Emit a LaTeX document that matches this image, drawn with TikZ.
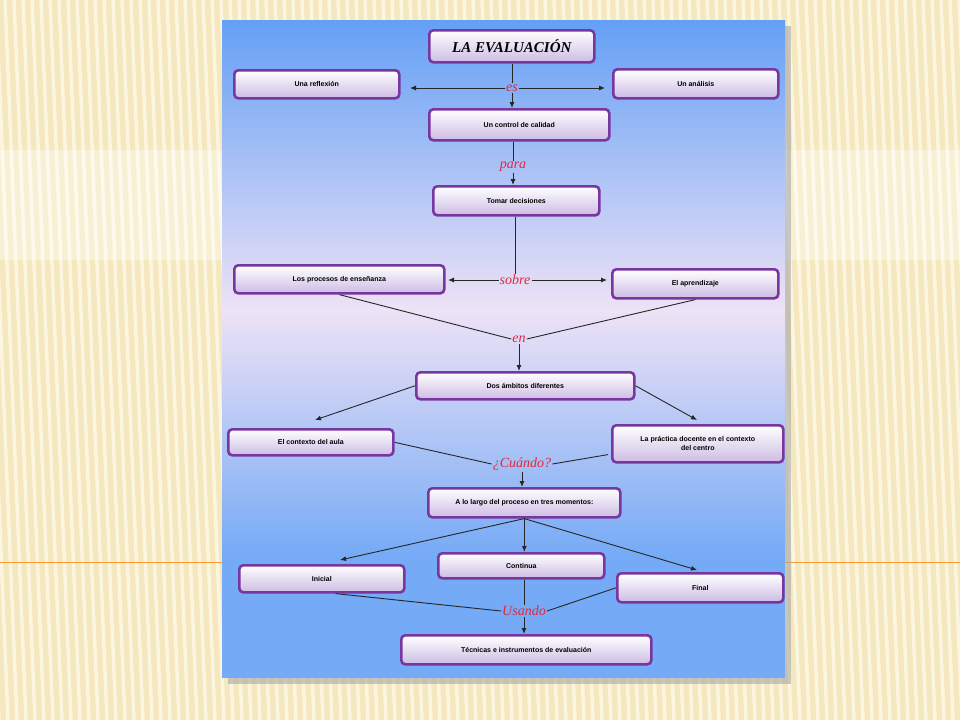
\documentclass[tikz,border=0pt]{standalone}
\usepackage{fontspec}
\setmainfont{Liberation Sans}
\newfontfamily\labfont{Liberation Serif}
\usetikzlibrary{arrows.meta}
\definecolor{bgy}{RGB}{245,232,190}
\definecolor{stripe}{RGB}{252,246,225}
\definecolor{pblue}{RGB}{100,160,245}
\definecolor{ppink}{RGB}{238,226,246}
\definecolor{boxb}{RGB}{205,188,228}
\definecolor{bord}{RGB}{120,55,160}
\definecolor{lab}{RGB}{225,40,60}
\tikzset{
 box/.style={draw=bord,line width=2.6pt,rounded corners=4pt,top color=white,bottom color=boxb,
   font=\fontsize{7}{9}\selectfont\bfseries,align=center,inner sep=0pt,anchor=north west},
 lbl/.style={text=lab,font=\labfont\itshape\fontsize{14}{14}\selectfont,inner sep=1pt},
 con/.style={line width=0.9pt,black!85},
 arr/.style={con,-{Latex[length=6pt,width=5pt]}}
}
\begin{document}
\begin{tikzpicture}[x=1pt,y=-1pt]
\useasboundingbox (0,0) rectangle (960,720);
\clip (0,0) rectangle (960,720);
\fill[bgy] (0,0) rectangle (960,720);
\foreach \i in {-40,-31,...,990} \draw[stripe,line width=3.5pt] (\i,0) -- (\i+30,720);
\fill[white,opacity=0.35] (0,150) rectangle (960,260);
\draw[orange!80,line width=0.8pt] (0,562) -- (960,562);
\fill[black!35,opacity=0.6] (228,26) rectangle (791,684);
\shade[top color=pblue,bottom color=ppink] (222,20) rectangle (785,310);
\shade[top color=ppink,bottom color=pblue!90] (222,310) rectangle (785,560);
\fill[pblue!90] (222,559) rectangle (785,678);
\node[box,minimum width=165,minimum height=32,font=\labfont\bfseries\itshape\fontsize{15}{15}\selectfont] (t) at (428,29) {LA EVALUACIÓN};
\node[box,minimum width=165,minimum height=28] (r) at (233,69) {Una reflexión};
\node[box,minimum width=165,minimum height=29] (an) at (612,68) {Un análisis};
\node[box,minimum width=180,minimum height=31] (c) at (428,108) {Un control de calidad};
\node[box,minimum width=166,minimum height=29] (d) at (432,185) {Tomar decisiones};
\node[box,minimum width=210,minimum height=28] (p) at (233,264) {Los procesos de enseñanza};
\node[box,minimum width=166,minimum height=29] (ap) at (611,268) {El aprendizaje};
\node[box,minimum width=218,minimum height=27] (da) at (415,371) {Dos ámbitos diferentes};
\node[box,minimum width=165,minimum height=26] (ca) at (227,428) {El contexto del aula};
\node[box,minimum width=171,minimum height=37] (pr) at (611,424) {La práctica docente en el contexto\\del centro};
\node[box,minimum width=192,minimum height=29] (al) at (427,487) {A lo largo del proceso en tres momentos:};
\node[box,minimum width=166,minimum height=25] (co) at (437,552) {Continua};
\node[box,minimum width=165,minimum height=27] (in) at (238,564) {Inicial};
\node[box,minimum width=166,minimum height=29] (fi) at (616,572) {Final};
\node[box,minimum width=250,minimum height=29] (te) at (400,634) {Técnicas e instrumentos de evaluación};
\node[lbl] (es) at (512,88) {es};
\node[lbl] (pa) at (513,167) {para};
\node[lbl] (so) at (515,280) {sobre};
\node[lbl] (en) at (519,339) {en};
\node[lbl] (cu) at (522,464) {¿Cuándo?};
\node[lbl] (us) at (524,611) {Usando};
\draw[con] (t.south -| es) -- (es);
\draw[arr] (es.west) -- (es.west -| 410,0);
\draw[arr] (es.east) -- (es.east -| 605,0);
\draw[arr] (es.south) -- (c.north -| es);
\draw[con] (c.south -| pa) -- (pa.north);
\draw[arr] (pa.south) -- (d.north -| pa);
\draw[con] (d.south -| so) -- (so.north);
\draw[arr] (so.west) -- (so.west -| 448,0);
\draw[arr] (so.east) -- (so.east -| 607,0);
\draw[con] (p.south) -- (en.west);
\draw[con] (ap.south) -- (en.east);
\draw[arr] (en.south) -- (da.north -| en);
\draw[arr] (da.west) -- (315,420);
\draw[arr] (da.east) -- (697,420);
\draw[con] (ca.east) -- (cu.west);
\draw[con] ([shift={(-3,-9)}]pr.south west) -- (cu.east);
\draw[arr] (cu.south) -- (al.north -| cu);
\draw[arr] (al.south) -- (340,560);
\draw[arr] (al.south) -- (co.north -| al.south);
\draw[arr] (al.south) -- (697,570);
\draw[con] ([xshift=-70]in.south east) -- (us.west);
\draw[con] (co.south -| us) -- (us.north);
\draw[con] (fi.west) -- (us.east);
\draw[arr] (us.south) -- (te.north -| us);
\end{tikzpicture}
\end{document}
